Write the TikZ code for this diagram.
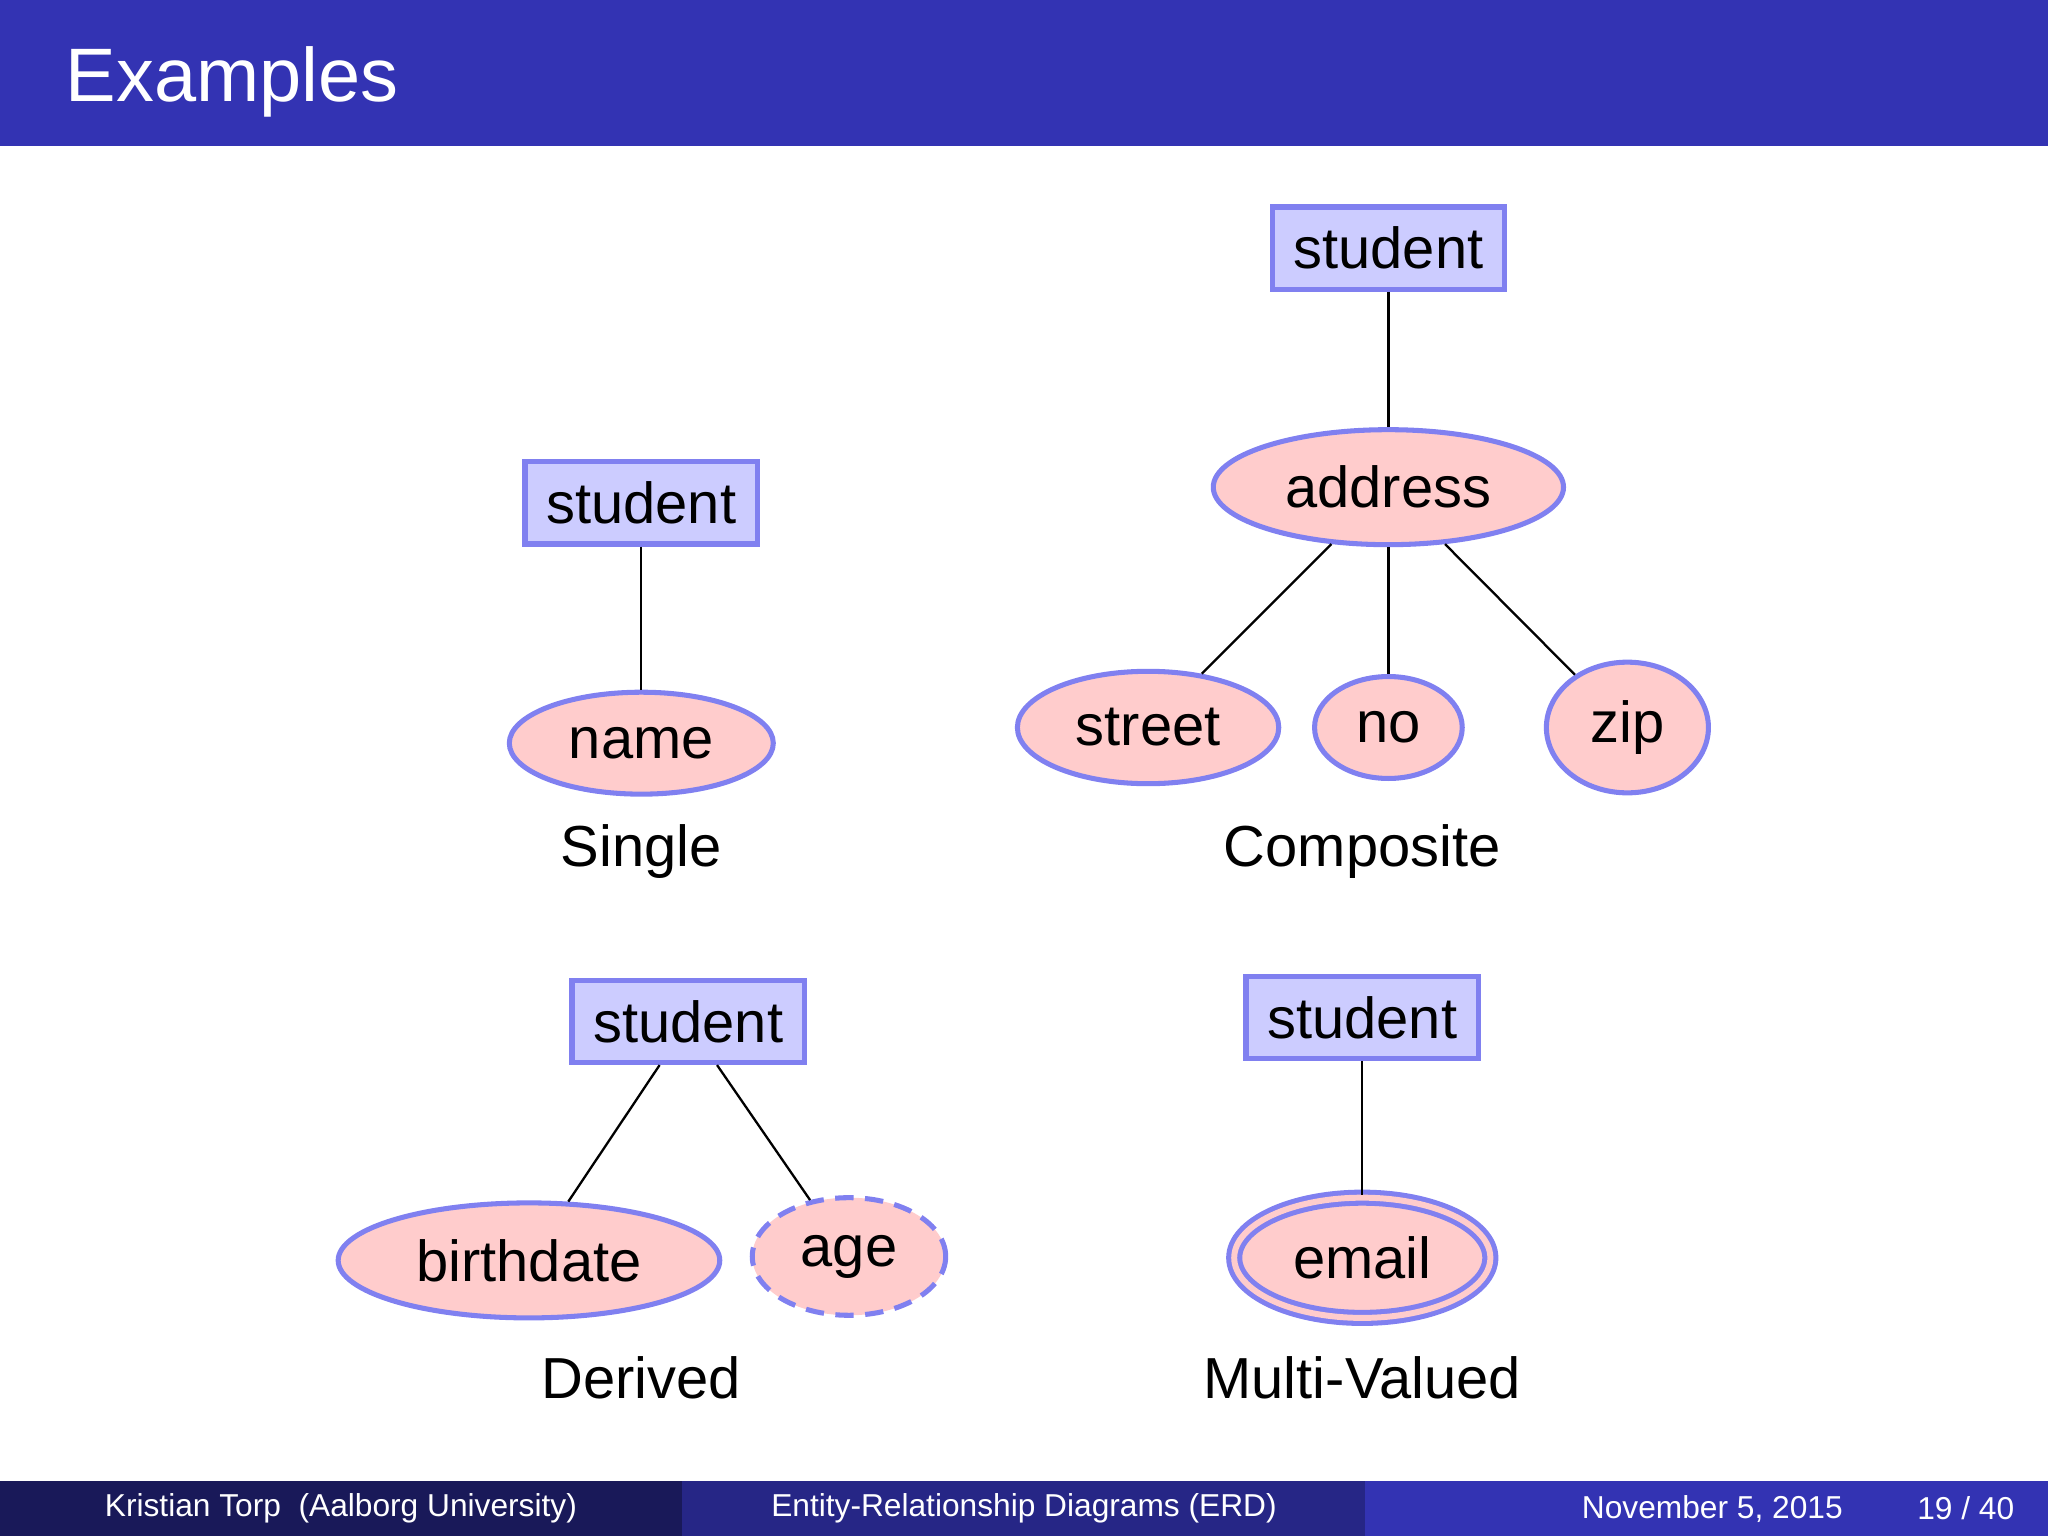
\documentclass[tikz,border=0pt]{standalone}
\usepackage{fontspec}
\setmainfont{Liberation Sans}
\usetikzlibrary{shapes.geometric}
\definecolor{hdr}{RGB}{51,51,179}
\definecolor{ftA}{RGB}{25,25,89}
\definecolor{ftB}{RGB}{38,38,134}
\definecolor{efill}{RGB}{204,204,255}
\definecolor{afill}{RGB}{255,204,204}
\definecolor{bord}{RGB}{128,128,240}
\begin{document}
\begin{tikzpicture}[x=0.01cm,y=-0.01cm,
  ent/.style={draw=bord,fill=efill,line width=1.1pt,minimum width=178\pgflinewidth*0+1.78cm,minimum height=0.63cm,inner sep=0pt,font=\fontsize{12.6}{14}\selectfont},
  att/.style={ellipse,draw=bord,fill=afill,line width=1.1pt,inner sep=0pt,font=\fontsize{12.6}{14}\selectfont},
  lab/.style={font=\fontsize{12.6}{14}\selectfont},
  con/.style={line width=0.5pt}]
\useasboundingbox (0,0) rectangle (1568,1176);
\fill[hdr] (0,0) rectangle (1568,112);
\node[anchor=west,text=white,font=\fontsize{16.5}{18}\selectfont] (title) at (38,63) {Examples};
\fill[ftA] (0,1134) rectangle (522,1176);
\fill[ftB] (522,1134) rectangle (1045,1176);
\fill[hdr] (1045,1134) rectangle (1568,1176);
\node[text=white,font=\fontsize{6.9}{8}\selectfont] (f1) at (261,1155) {Kristian Torp\ \ (Aalborg University)};
\node[text=white,font=\fontsize{6.9}{8}\selectfont] (f2) at (784,1155) {Entity-Relationship Diagrams (ERD)};
\node[text=white,font=\fontsize{6.9}{8}\selectfont] (f3) at (1311,1155) {November 5, 2015};
\node[text=white,font=\fontsize{6.9}{8}\selectfont] (f4) at (1505,1155) {19 / 40};
% Single
\node[ent] (s1) at (491,385) {student};
\node[att,minimum width=2.02cm,minimum height=0.78cm] (name) at (491,569) {name};
\node[lab] (l1) at (491,652) {Single};
\draw[con] (s1) -- (name);
% Composite
\node[ent] (s2) at (1063,190) {student};
\node[att,minimum width=2.68cm,minimum height=0.88cm] (addr) at (1063,373) {address};
\node[att,minimum width=2.0cm,minimum height=0.86cm] (street) at (879,557) {street};
\node[att,minimum width=1.13cm,minimum height=0.78cm] (no) at (1063,557) {no};
\node[att,minimum width=1.24cm,minimum height=1.0cm] (zip) at (1246,557) {zip};
\node[lab] (l2) at (1043,652) {Composite};
\draw[con] (s2) -- (addr);
\draw[con] (addr) -- (street);
\draw[con] (addr) -- (no);
\draw[con] (addr) -- (zip);
% Derived
\node[ent] (s3) at (527,782) {student};
\node[att,minimum width=2.92cm,minimum height=0.88cm] (bd) at (405,965) {birthdate};
\node[att,dashed,dash pattern=on 4pt off 2.5pt,minimum width=1.48cm,minimum height=0.9cm] (age) at (650,962) {age};
\node[lab] (l3) at (491,1055) {Derived};
\draw[con] (s3.south) ++(-22,0) coordinate (d1) -- (bd);
\draw[con] (s3.south) ++(22,0) coordinate (d2) -- (age);
% Multi-valued
\node[ent] (s4) at (1043,779) {student};
\node[att,double=afill,double distance=1.3pt,minimum width=1.96cm,minimum height=0.92cm] (email) at (1043,963) {email};
\node[lab] (l4) at (1043,1055) {Multi-Valued};
\draw[con] (s4) -- (email);
\end{tikzpicture}
\end{document}
